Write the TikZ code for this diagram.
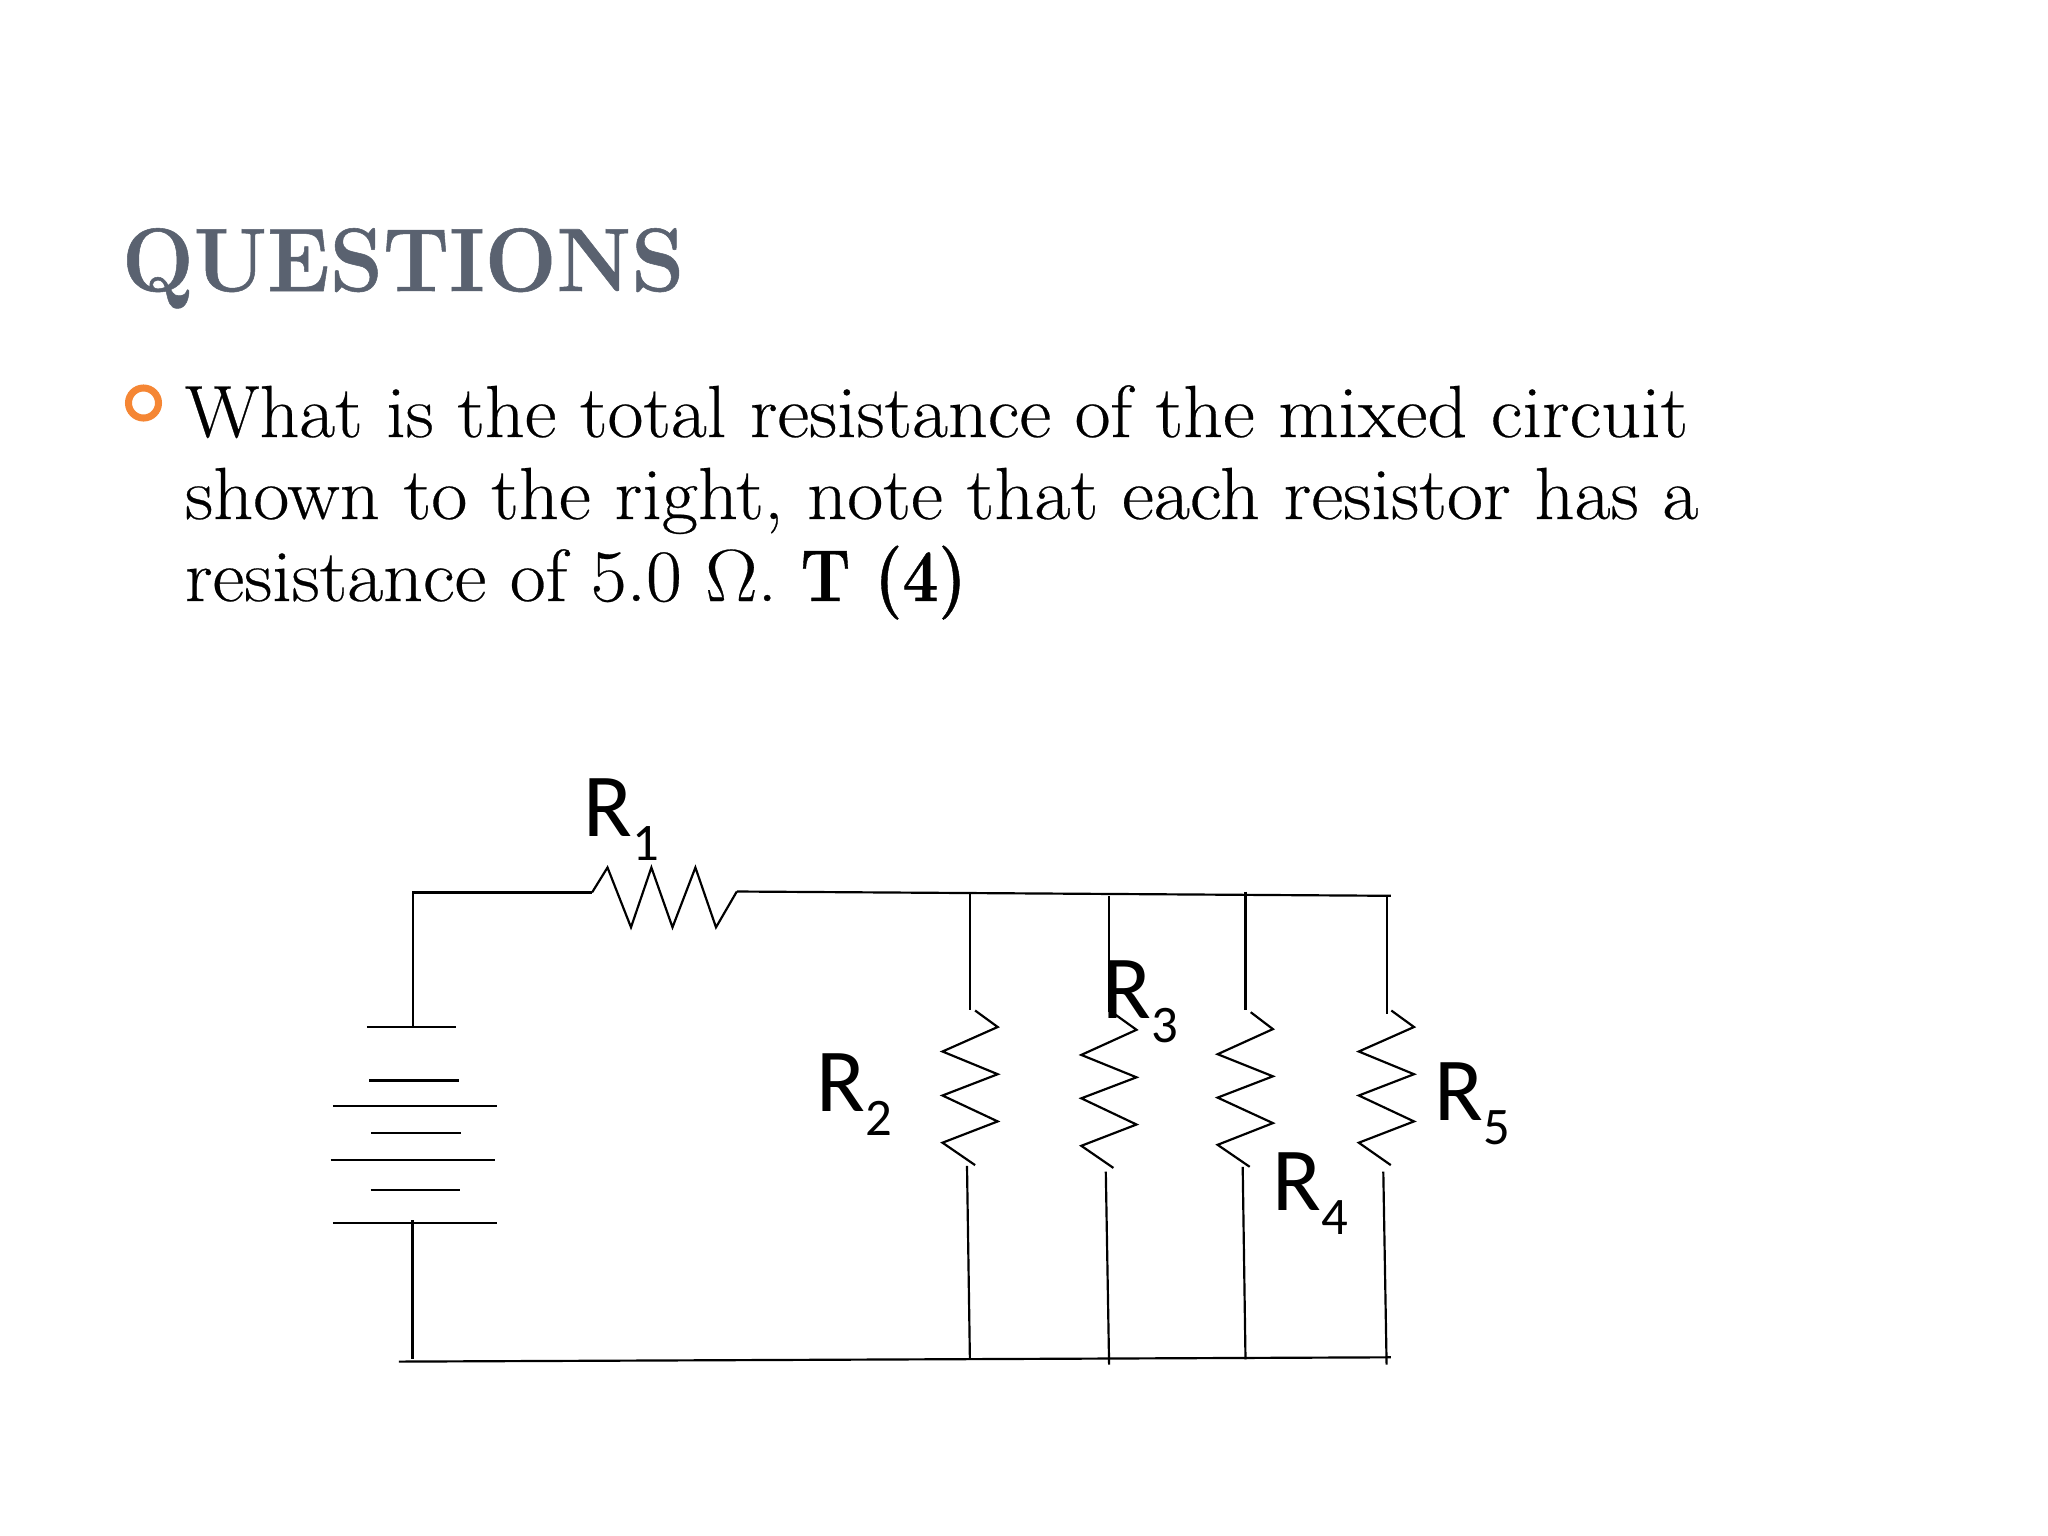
\documentclass[tikz,border=0pt]{standalone}
\usepackage{fontspec}
\setmainfont{Latin Modern Roman}[FakeBold=0.35,BoldFeatures={FakeBold=0.6}]
\newfontfamily\labfont{Carlito}
\definecolor{titlegrey}{HTML}{5A6270}
\definecolor{bulletorange}{HTML}{F58634}
\newcommand{\Rlab}[1]{\labfont\fontsize{25.6pt}{25.6pt}\selectfont R\hspace{0.3pt}\raisebox{-7pt}{\fontsize{15pt}{15pt}\selectfont #1}}
\tikzset{
  wire/.style={draw=black,line width=0.62pt,line join=miter},
  bodytext/.style={anchor=base west,inner sep=0pt,outer sep=0pt,text=black,xscale=1.056,font=\fontsize{21pt}{21pt}\selectfont},
  titletext/.style={anchor=base west,inner sep=0pt,outer sep=0pt,text=titlegrey,xscale=0.943,font=\fontsize{25.6pt}{25.6pt}\selectfont\bfseries},
  rlabel/.style={anchor=base west,inner sep=0pt,outer sep=0pt,text=black},
  bulletring/.style={circle,draw=bulletorange,line width=2pt,minimum size=0.30cm,inner sep=0pt}
}
\begin{document}
\begin{tikzpicture}[x=0.01cm,y=-0.01cm]
\fill[white] (0,0) rectangle (2048,1536);
\useasboundingbox (0,0) rectangle (2048,1536);
\node[titletext] (title) at (122,291) {QUESTIONS};
\node[bulletring] (bullet) at (143.5,403) {};
\node[bodytext] (l1) at (185,437) {What is the total resistance of the mixed circuit};
\node[bodytext,xscale=1.0065] (l2) at (185,519) {shown to the right, note that each resistor has a};
\node[bodytext] (l3) at (185,601) {resistance of 5.0 Ω. \scalebox{0.82}[1]{\textbf{T (4)}}};
% battery
\coordinate (corner) at (413,892.4);
\coordinate (batTop) at (413,1027);
\coordinate (batBot) at (412.5,1220);
\coordinate (batEnd) at (412.5,1358.7);
\coordinate (p1a) at (366.8,1027);   \coordinate (p1b) at (456.4,1027);
\coordinate (p2a) at (369.3,1080.5); \coordinate (p2b) at (458.9,1080.5);
\coordinate (p3a) at (332.9,1105.7); \coordinate (p3b) at (497.1,1105.7);
\coordinate (p4a) at (371.4,1133);   \coordinate (p4b) at (461.4,1133);
\coordinate (p5a) at (330.7,1159.6); \coordinate (p5b) at (495,1159.6);
\coordinate (p6a) at (370.7,1190);   \coordinate (p6b) at (460.4,1190);
\coordinate (p7a) at (332.9,1222.7); \coordinate (p7b) at (497.1,1222.7);
\foreach \i in {1,...,7} \draw[wire] (p\i a) -- (p\i b);
\draw[wire] (batTop) -- (corner) -- (592.1,892.4) coordinate (r1a);
\draw[wire] (batBot) -- (batEnd);
% R1
\draw[wire] (r1a) -- (607.5,867.5) -- (631,927.3) -- (651.4,867.5) -- (672.5,927.3) -- (695.4,867.5) -- (716,927.3) -- (736.8,891.5) coordinate (r1b);
% rails
\coordinate (topEnd) at (1390.8,895.8);
\coordinate (botStart) at (398.9,1361.6);
\coordinate (botEnd) at (1390.8,1357.3);
\draw[wire] (r1b) -- (topEnd);
\draw[wire] (botStart) -- (botEnd);
% R2 branch
\draw[wire] (969.9,893.4) -- (969.9,1009.8);
\draw[wire] (975.1,1010.5) -- (997.7,1027) -- (942.5,1051.5) -- (997.7,1074.2) -- (942.5,1095.5) -- (997.7,1121.4) -- (942.5,1142.7) -- (975.1,1165.1);
\draw[wire] (967,1165.8) -- (969.9,1359.3);
% R3 branch
\draw[wire] (1109.1,896.2) -- (1109.1,1011.5);
\draw[wire] (1113.4,1013.2) -- (1136.5,1029.8) -- (1081.3,1054.9) -- (1136.5,1077.3) -- (1081.3,1098.3) -- (1136.5,1124.5) -- (1081.3,1145.8) -- (1113.4,1167.9);
\draw[wire] (1105.8,1171.6) -- (1109.1,1364.5);
% R4 branch
\draw[wire] (1245.5,891.7) -- (1245.5,1009.8);
\draw[wire] (1250.7,1012.2) -- (1272.9,1029.1) -- (1217.6,1054.2) -- (1272.9,1076.3) -- (1217.6,1097.6) -- (1272.9,1123.1) -- (1217.6,1144.8) -- (1249.7,1166.8);
\draw[wire] (1242.7,1166.8) -- (1245.5,1359.3);
% R5 branch
\draw[wire] (1386.6,895.8) -- (1386.6,1013.9);
\draw[wire] (1391.3,1010.5) -- (1414,1027) -- (1358.8,1051.5) -- (1414,1074.2) -- (1358.8,1095.5) -- (1414,1121.4) -- (1358.8,1142.7) -- (1390.8,1165.1);
\draw[wire] (1383.3,1171.6) -- (1386.6,1364.5);
% labels
\node[rlabel] (R1) at (583,836) {\Rlab{1}};
\node[rlabel] (R2) at (816,1111) {\Rlab{2}};
\node[rlabel] (R3) at (1102,1018) {\Rlab{3}};
\node[rlabel] (R4) at (1272,1210) {\Rlab{4}};
\node[rlabel] (R5) at (1434,1120) {\Rlab{5}};
\end{tikzpicture}
\end{document}
